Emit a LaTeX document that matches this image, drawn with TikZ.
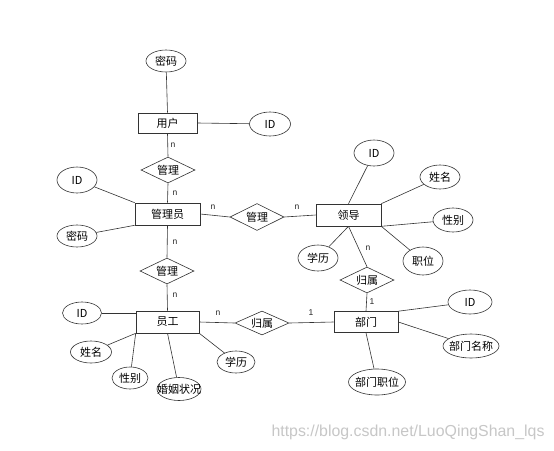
\documentclass[tikz,border=0pt]{standalone}
\usepackage{fontspec}
\usepackage{graphicx}
\setmainfont{Liberation Sans}
\newfontfamily\cjk{Noto Sans CJK SC}
\usetikzlibrary{shapes.geometric}
\newcommand{\zw}[1]{\makebox[0pt]{#1}}
\begin{document}
\begin{tikzpicture}[x=1pt,y=-1pt,
  ln/.style={line width=0.6pt, draw=black!80},
  txt/.style={font=\cjk\fontsize{11}{12}\selectfont},
  ent/.style={ln, rectangle, inner sep=0pt, minimum width=64pt, minimum height=21pt, txt},
  attr/.style={ln, ellipse, inner sep=0pt, minimum width=40pt, minimum height=24pt, txt},
  rel/.style={ln, diamond, aspect=2, inner sep=0pt, minimum width=54pt, minimum height=26pt, txt},
  card/.style={font=\fontsize{8.5}{9}\selectfont, inner sep=0pt, text=black!85}]
\path[fill=white] (0,0) rectangle (554,450);
\path[use as bounding box] (0,0) rectangle (554,450);

% user
\node[ent, minimum width=59pt, minimum height=20pt] (user) at (167.5,123) {用户};
\node[attr, minimum height=22pt] (userPwd) at (166,61) {密码};
\node[attr, minimum width=41pt] (userID) at (270,124) {ID};
\node[rel] (m1) at (168,170) {管理};

% admin
\node[ent, minimum width=65pt, minimum height=22pt] (admin) at (167.5,214) {管理员};
\node[attr, minimum height=26pt] (adminID) at (77,180) {ID};
\node[attr, minimum height=22pt] (adminPwd) at (77,236) {密码};
\node[rel] (m2) at (167,271) {管理};
\node[rel, minimum height=27pt] (m3) at (257,217) {管理};

% leader
\node[ent, minimum width=65pt, minimum height=22pt] (lead) at (348.5,215) {领导};
\node[attr, minimum height=26pt] (leadID) at (374,153) {ID};
\node[attr] (leadName) at (440,177) {姓名};
\node[attr] (leadSex) at (453,220) {性别};
\node[attr, minimum height=28pt] (leadPos) at (423,261) {职位};
\node[attr, minimum height=26pt] (leadEdu) at (318,258) {学历};
\node[rel] (b1) at (367,280) {归属};

% employee
\node[ent, minimum width=63pt, minimum height=22pt] (emp) at (167.5,322) {员工};
\node[attr, minimum width=39pt, minimum height=22pt] (empID) at (82,313) {ID};
\node[attr, minimum width=41pt, minimum height=22pt] (empName) at (91,352) {姓名};
\node[attr, minimum width=36pt, minimum height=22pt] (empSex) at (130,378) {性别};
\node[attr, minimum width=44pt, minimum height=23pt] (empMar) at (179,389) {\zw{婚姻状况}};
\node[attr, minimum width=38pt, minimum height=22pt] (empEdu) at (236,362) {学历};
\node[rel, minimum height=24pt] (b2) at (262,323) {归属};

% department
\node[ent, minimum width=64pt, minimum height=21pt] (dept) at (366,322) {部门};
\node[attr, minimum width=44pt] (deptID) at (470,302) {ID};
\node[attr, minimum width=56pt, minimum height=24pt] (deptName) at (471,346) {\zw{部门名称}};
\node[attr, minimum width=57pt, minimum height=26pt] (deptPos) at (377,382) {\zw{部门职位}};

% connectors
\draw[ln] (userPwd) -- (user.north);
\draw[ln] (user.east) -- (userID);
\draw[ln] (user.south) -- (m1.north);
\draw[ln] (m1.south) -- (admin.north);
\draw[ln] (adminID) -- (admin.north west);
\draw[ln] (adminPwd) -- (admin.south west);
\draw[ln] (admin.south) -- (m2.north);
\draw[ln] (m2.south) -- (emp.north);
\draw[ln] (admin.east) -- (m3.west);
\draw[ln] (m3.east) -- (lead.west);
\draw[ln] (leadID) -- (lead.north);
\draw[ln] (leadName) -- (lead.north east);
\draw[ln] (leadSex) -- (lead.south east);
\draw[ln] (leadPos) -- (lead.south east);
\draw[ln] (leadEdu) -- (lead.south);
\draw[ln] (lead.south) -- (b1.north);
\draw[ln] (b1.south) -- (dept.north);
\draw[ln] (empID) -- (empID -| emp.west);
\draw[ln] (empName) -- (emp.south west);
\draw[ln] (empSex) -- (emp.south west);
\draw[ln] (empMar) -- (emp.south);
\draw[ln] (empEdu) -- (emp.south east);
\draw[ln] (emp.east) -- (b2.west);
\draw[ln] (b2.east) -- (dept.west);
\draw[ln] (deptID) -- (dept.north east);
\draw[ln] (deptName) -- (dept.east);
\draw[ln] (deptPos) -- (dept.south);

% cardinalities
\node[card] (c1) at (173,145) {n};
\node[card] (c2) at (175,193) {n};
\node[card] (c3) at (175,242) {n};
\node[card] (c4) at (175,295) {n};
\node[card] (c5) at (213,207) {n};
\node[card] (c6) at (297,207) {n};
\node[card] (c7) at (368,248) {n};
\node[card] (c8) at (372,302) {1};
\node[card] (c9) at (218,313) {n};
\node[card] (c10) at (311,313) {1};

% watermark
\node[text=black!22, inner sep=0pt] (wm) at (408,432) {\resizebox{273pt}{!}{https://blog.csdn.net/LuoQingShan\_lqs}};
\end{tikzpicture}
\end{document}
